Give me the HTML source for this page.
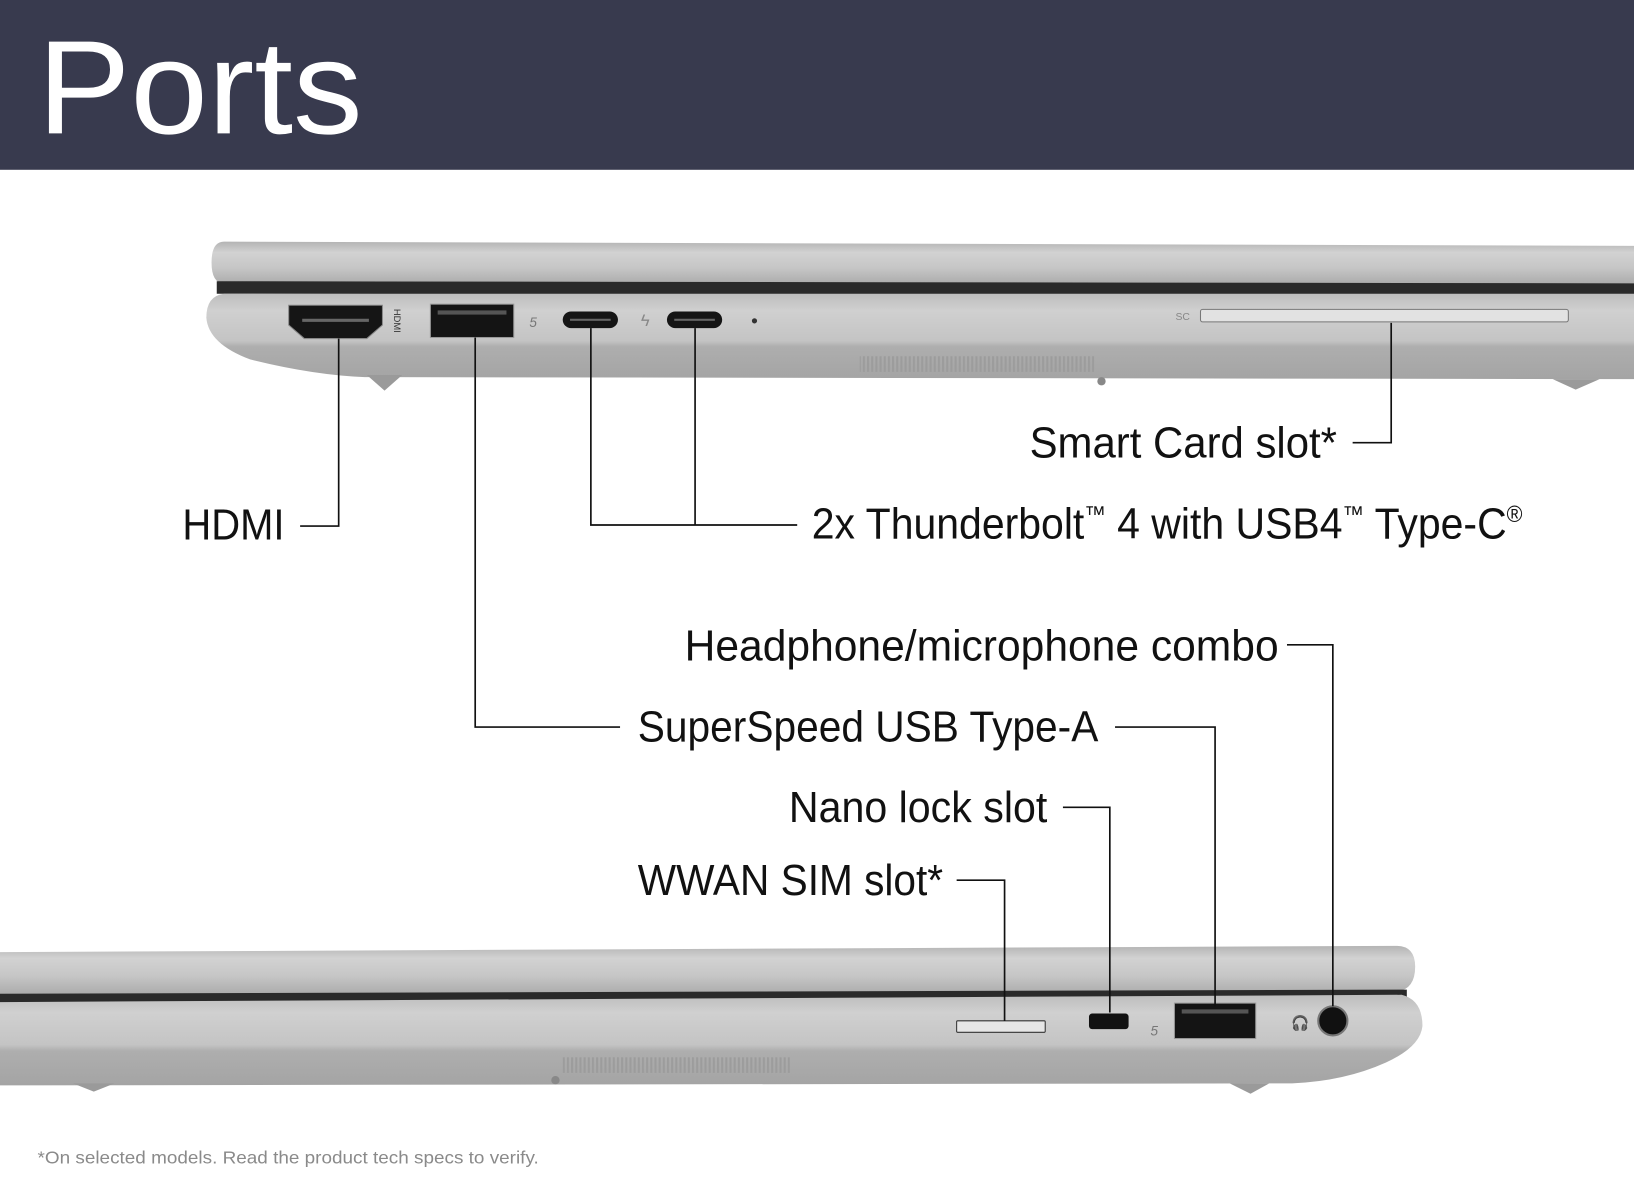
<!DOCTYPE html>
<html><head><meta charset="utf-8"><style>
html,body{margin:0;padding:0;background:#fff;width:1634px;height:1200px;overflow:hidden}
svg{display:block}
text{font-family:"Liberation Sans",sans-serif}
</style></head><body>
<svg width="1634" height="1200" viewBox="0 0 1568 1152" preserveAspectRatio="none" xmlns="http://www.w3.org/2000/svg">
<defs>
<linearGradient id="lid" x1="0" y1="0" x2="0" y2="1">
<stop offset="0" stop-color="#b4b4b4"/><stop offset="0.25" stop-color="#d2d2d2"/><stop offset="0.6" stop-color="#c6c6c6"/><stop offset="1" stop-color="#a9a9a9"/></linearGradient>
<linearGradient id="base" x1="0" y1="0" x2="0" y2="1">
<stop offset="0" stop-color="#bdbdbd"/><stop offset="0.2" stop-color="#d0d0d0"/><stop offset="0.55" stop-color="#c4c4c4"/><stop offset="0.62" stop-color="#aeaeae"/><stop offset="1" stop-color="#a4a4a4"/></linearGradient>
<pattern id="vent" width="4" height="15" patternUnits="userSpaceOnUse"><rect width="2" height="15" fill="#9c9c9c"/></pattern>
</defs>
<rect x="0" y="0" width="1568" height="163" fill="#383a4e"/>
<text x="36" y="128" font-size="128" fill="#fff" textLength="312" lengthAdjust="spacingAndGlyphs">Ports</text>

<!-- top laptop -->
<path d="M1568 236 L215 232 Q203 232 203 252 Q203 272 215 272 L1568 274 Z" fill="url(#lid)"/>
<path d="M208 270 L1568 272 L1568 284 L208 282 Z" fill="#2a2a2a"/>
<path d="M1568 282 L215 282 Q198 284 198 305 Q200 330 240 345 Q300 360 350 362 L1568 364 Z" fill="url(#base)"/>
<path d="M352 360 L386 360 L369 375 Z" fill="#9a9a9a"/>
<circle cx="1057" cy="366" r="4" fill="#888"/>
<path d="M1490 364 L1535 364 L1512 374 Z" fill="#9a9a9a"/>
<rect x="825" y="342" width="225" height="15" fill="url(#vent)"/>
<path d="M277 293 L367 293 L367 312 L352 325 L292 325 L277 312 Z" fill="#151515" stroke="#888" stroke-width="1"/>
<rect x="290" y="306" width="64" height="3" fill="#666"/>
<text x="378" y="308" font-size="9" fill="#333" transform="rotate(90 378 308)" text-anchor="middle">HDMI</text>
<rect x="413" y="292" width="80" height="32" fill="#141414" stroke="#999"/>
<rect x="420" y="298" width="66" height="4" fill="#555"/>
<text x="508" y="314" font-size="13" fill="#777" font-style="italic">5</text>
<rect x="540" y="299" width="53" height="16" rx="8" fill="#151515"/>
<rect x="547" y="306" width="39" height="2" fill="#666"/>
<text x="615" y="313" font-size="16" fill="#888">ϟ</text>
<rect x="640" y="299" width="53" height="16" rx="8" fill="#151515"/>
<rect x="647" y="306" width="39" height="2" fill="#666"/>
<circle cx="724" cy="308" r="2.5" fill="#333"/>
<text x="1128" y="307" font-size="10" fill="#888">SC</text>
<rect x="1152" y="297" width="353" height="12" rx="2" fill="#e2e2e2" stroke="#777"/>

<!-- bottom laptop -->
<path d="M0 914 L1340 908 Q1358 908 1358 928 Q1358 950 1340 952 L0 956 Z" fill="url(#lid)"/>
<path d="M0 954 L1350 950 L1350 962 L0 964 Z" fill="#2a2a2a"/>
<path d="M0 962 L1345 955 Q1365 960 1365 985 Q1363 1005 1330 1020 Q1290 1038 1240 1040 L0 1042 Z" fill="url(#base)"/>
<path d="M70 1040 L110 1040 L90 1048 Z" fill="#9a9a9a"/>
<circle cx="533" cy="1037" r="4" fill="#888"/>
<path d="M1180 1040 L1218 1040 L1200 1050 Z" fill="#9a9a9a"/>
<rect x="540" y="1015" width="218" height="15" fill="url(#vent)"/>
<rect x="918" y="980" width="85" height="11" rx="1" fill="#e6e6e6" stroke="#333"/>
<rect x="1045" y="973" width="38" height="15" rx="3" fill="#111"/>
<text x="1104" y="994" font-size="13" fill="#777" font-style="italic">5</text>
<rect x="1127" y="963" width="78" height="34" fill="#141414" stroke="#999"/>
<rect x="1134" y="969" width="64" height="4" fill="#555"/>
<text x="1239" y="987" font-size="14" fill="#555">🎧</text>
<circle cx="1279" cy="980" r="14" fill="#111" stroke="#777" stroke-width="2"/>

<!-- connectors -->
<g stroke="#111" stroke-width="1.6" fill="none">
<path d="M325 325 V505 H288"/>
<path d="M456 324 V698 H595"/>
<path d="M567 315 V504 H765 M667 315 V504"/>
<path d="M1335 310 V425 H1298"/>
<path d="M1235 619 H1279 V966"/>
<path d="M1070 698 H1166 V966"/>
<path d="M1020 775 H1065 V972"/>
<path d="M918 845 H964 V980"/>
</g>

<g font-size="42" fill="#111">
<text x="175" y="518" textLength="98" lengthAdjust="spacingAndGlyphs">HDMI</text>
<text x="988" y="439" textLength="295" lengthAdjust="spacingAndGlyphs">Smart Card slot*</text>
<text x="779" y="517" textLength="682" lengthAdjust="spacingAndGlyphs">2x Thunderbolt<tspan font-size="22" dy="-16">™</tspan><tspan dy="16"> 4 with USB4</tspan><tspan font-size="22" dy="-16">™</tspan><tspan dy="16"> Type-C</tspan><tspan font-size="22" dy="-16">®</tspan></text>
<text x="657" y="634" textLength="570" lengthAdjust="spacingAndGlyphs">Headphone/microphone combo</text>
<text x="612" y="712" textLength="442" lengthAdjust="spacingAndGlyphs">SuperSpeed USB Type-A</text>
<text x="757" y="789" textLength="248" lengthAdjust="spacingAndGlyphs">Nano lock slot</text>
<text x="612" y="859" textLength="293" lengthAdjust="spacingAndGlyphs">WWAN SIM slot*</text>
</g>
<text x="36" y="1117" font-size="17" fill="#8a8a8a" textLength="481" lengthAdjust="spacingAndGlyphs">*On selected models. Read the product tech specs to verify.</text>
</svg>
</body></html>
